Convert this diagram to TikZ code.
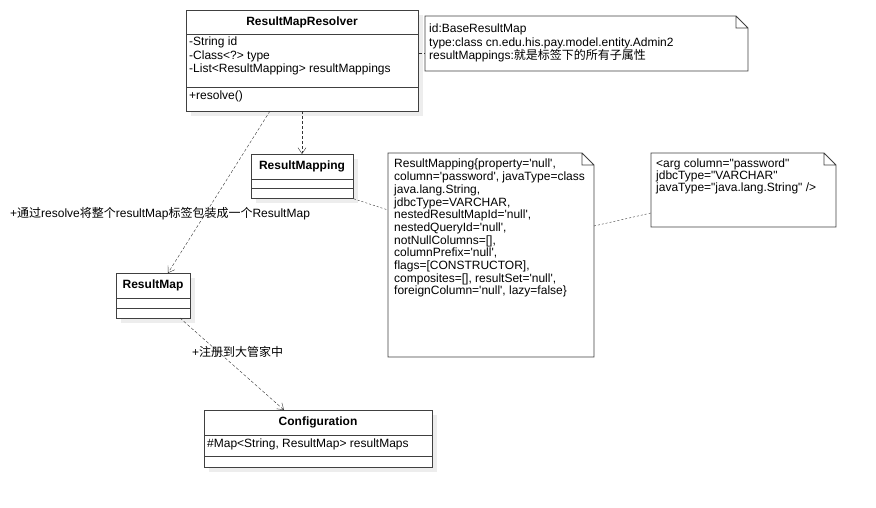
\documentclass[tikz,border=0pt]{standalone}
\usepackage{fontspec}
\setmainfont{Liberation Sans}
\newfontfamily\cjk{Noto Sans CJK SC}
\newcommand\q{\textquotesingle}
\newcommand\dq{\textquotedbl}
\usetikzlibrary{arrows.meta}
\begin{document}
\begin{tikzpicture}[x=1pt,y=-1pt,
  box/.style={draw=black!75,line width=0.9pt,fill=white,anchor=north west,inner sep=0pt},
  shadowbox/.style={fill=black!7,draw=none},
  txt/.style={anchor=north west,inner sep=0pt,font=\fontsize{12}{13.2}\selectfont,align=left},
  ttl/.style={anchor=center,inner sep=0pt,font=\fontsize{12}{13}\selectfont\bfseries},
  dep/.style={dashed,dash pattern=on 3pt off 2pt,draw=black!80,-{Straight Barb[length=6pt,width=8pt]}},
  anch/.style={dashed,dash pattern=on 3pt off 2pt,draw=black!80}]
\useasboundingbox (0,0) rectangle (876,507);
% shadows
\fill[shadowbox] (191,15) rectangle (423,116);
\fill[shadowbox] (256,159) rectangle (358,203);
\fill[shadowbox] (121,278) rectangle (195,323);
\fill[shadowbox] (209,415) rectangle (437,472);
% ResultMapResolver
\node[box,minimum width=232pt,minimum height=101pt] (rmr) at (186,10) {};
\draw[black!75,line width=0.9pt] (186,34) -- (418,34) (186,87) -- (418,87);
\node[ttl] (rmrt) at (302,22) {ResultMapResolver};
\node[txt] (rmra) at (189,37) {-String id\\-Class<?> type\\-List<ResultMapping> resultMappings};
\node[txt] (rmrm) at (189,91) {+resolve()};
% ResultMapping
\node[box,minimum width=102pt,minimum height=44pt] (rmg) at (251,154) {};
\draw[black!75,line width=0.9pt] (251,179) -- (353,179) (251,188) -- (353,188);
\node[ttl] (rmgt) at (302,166.5) {ResultMapping};
% ResultMap
\node[box,minimum width=74pt,minimum height=45pt] (rm) at (116,273) {};
\draw[black!75,line width=0.9pt] (116,298) -- (190,298) (116,308) -- (190,308);
\node[ttl] (rmt) at (153,285.5) {ResultMap};
% Configuration
\node[box,minimum width=228pt,minimum height=57pt] (cfg) at (204,410) {};
\draw[black!75,line width=0.9pt] (204,435) -- (432,435) (204,456) -- (432,456);
\node[ttl] (cfgt) at (318,422.5) {Configuration};
\node[txt] (cfga) at (207,439) {\#Map<String, ResultMap> resultMaps};
% Notes
\draw[black!75,line width=0.9pt,fill=white] (425,16) -- (736,16) -- (748,28) -- (748,71) -- (425,71) -- cycle (736,16) -- (736,28) -- (748,28);
\node[txt] (n1) at (429,24) {id:BaseResultMap\\type:class cn.edu.his.pay.model.entity.Admin2\\resultMappings:{\cjk 就是标签下的所有子属性}};
\coordinate (n1w) at (425,53);
\draw[black!75,line width=0.9pt,fill=white] (388,153) -- (582,153) -- (594,165) -- (594,357) -- (388,357) -- cycle (582,153) -- (582,165) -- (594,165);
\node[txt,font=\fontsize{12}{12.7}\selectfont] (n2) at (394,159) {ResultMapping\{property=\q null\q,\\column=\q password\q, javaType=class\\java.lang.String,\\jdbcType=VARCHAR,\\nestedResultMapId=\q null\q,\\nestedQueryId=\q null\q,\\notNullColumns=[],\\columnPrefix=\q null\q,\\flags=[CONSTRUCTOR],\\composites=[], resultSet=\q null\q,\\foreignColumn=\q null\q, lazy=false\}};
\coordinate (n2w) at (388,210);
\coordinate (n2e) at (594,226);
\draw[black!75,line width=0.9pt,fill=white] (651,153) -- (824,153) -- (836,165) -- (836,227) -- (651,227) -- cycle (824,153) -- (824,165) -- (836,165);
\node[txt,font=\fontsize{12}{11.7}\selectfont] (n3) at (656,159) {<arg column=\dq password\dq\\jdbcType=\dq VARCHAR\dq\\javaType=\dq java.lang.String\dq\ />};
\coordinate (n3w) at (651,213);
% connectors
\draw[dep] (270,111) -- (168,273);
\draw[dep] (302,111) -- (302,154);
\draw[dep] (180,318) -- (284,410);
\draw[anch] (rmr.east |- n1w) -- (n1w);
\draw[anch,dash pattern=on 2pt off 2pt] (rmg.south east) -- (n2w);
\draw[anch,dash pattern=on 2pt off 2pt] (n2e) -- (n3w);
% labels
\node[txt,anchor=west] (l1) at (10,214) {+{\cjk 通过}resolve{\cjk 将整个}resultMap{\cjk 标签包装成一个}ResultMap};
\node[txt,anchor=west] (l2) at (192,352) {+{\cjk 注册到大管家中}};
\end{tikzpicture}
\end{document}
